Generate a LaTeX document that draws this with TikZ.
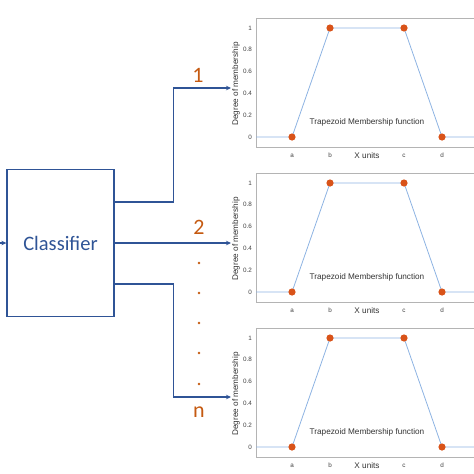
\documentclass[tikz,border=0pt]{standalone}
\usepackage{fontspec}
\setmainfont{Carlito}
\newfontfamily\plotfont{Liberation Sans}
\usetikzlibrary{arrows.meta}
\definecolor{navy}{HTML}{2F5496}
\definecolor{rust}{HTML}{C55A11}
\definecolor{curve}{HTML}{8DB3E2}
\definecolor{marker}{HTML}{D95319}
\definecolor{axisgray}{HTML}{B4B4B4}
\definecolor{ticktext}{HTML}{404040}

\begin{document}
\begin{tikzpicture}[x=1pt, y=-1pt, >={Stealth[length=5pt,width=4.5pt]},
    flow/.style={draw=navy, line width=1.3pt},
    num/.style={text=rust, font=\fontsize{22}{22}\selectfont},
    tick/.style={text=ticktext, font=\plotfont\fontsize{6.3}{6.3}\selectfont, inner sep=1pt},
    axlabel/.style={text=black!80, font=\plotfont\fontsize{8.2}{8.2}\selectfont, inner sep=1pt}]
    \useasboundingbox (0,0) rectangle (474,474);
    % Nodes
    \node [draw=navy, line width=1.3pt, minimum width=107pt, minimum height=147pt, inner sep=0pt, text=navy, font=\fontsize{20.5}{20.5}\selectfont] (cls) at (60.5,243) {Classifier};
    \coordinate (src) at (0,243);
    \coordinate (in1) at (231,88);
    \coordinate (in2) at (231,243);
    \coordinate (in3) at (231,397);
    \node [num] (lab1) at (198,75) {1};
    \node [num] (lab2) at (199,227) {2};
    \node [num] (labn) at (199,412) {n};
    \foreach \y in {263,293,323,353,384}
        \fill[rust] (199,\y) circle (1.3);
    % Arrows
    \draw[flow, ->] (src) -- (cls.west);
    \draw[flow, ->] ([yshift=41pt]cls.east) -- ++(59,0) |- (in1);
    \draw[flow, ->] (cls.east) -- (in2);
    \draw[flow, ->] ([yshift=-41pt]cls.east) -- ++(59,0) |- (in3);
    % Membership plots
    \foreach \k/\dy in {1/0, 2/155, 3/310} {
        \draw[axisgray, line width=0.6pt] (474,18+\dy) -- (256,18+\dy) -- (256,147+\dy) -- (474,147+\dy);
        \draw[curve, line width=0.8pt] (256,137+\dy) -- (292,137+\dy) -- (330,28+\dy) -- (404,28+\dy) -- (442,137+\dy) -- (474,137+\dy);
        \foreach \x/\v in {292/137, 330/28, 404/28, 442/137}
            \fill[marker] (\x,\v+\dy) circle (3.6);
        \foreach \t [count=\i from 0] in {0,0.2,0.4,0.6,0.8,1}
            \node[tick, anchor=east] (yt\k\i) at (253,137-21.8*\i+\dy) {\t};
        \foreach \x/\l in {292/a, 330/b, 404/c, 442/d}
            \node[tick] (xt\k\l) at (\x,155.5+\dy) {\l};
        \node[axlabel] (xl\k) at (367,155.5+\dy) {X units};
        \node[axlabel, rotate=90] (yl\k) at (236,84+\dy) {Degree of membership};
        \node[axlabel] (ttl\k) at (367,122+\dy) {Trapezoid Membership function};
    }
\end{tikzpicture}
\end{document}
